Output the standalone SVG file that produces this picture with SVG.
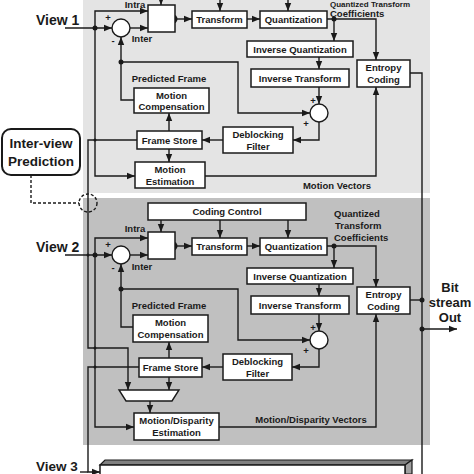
<svg xmlns="http://www.w3.org/2000/svg" width="474" height="474" viewBox="0 0 474 474">
<style>
text{font-family:"Liberation Sans",Arial,sans-serif;font-weight:bold;fill:#1a1a1a}
.t{font-size:9.5px;text-anchor:middle}
.s{font-size:9.5px}
.big{font-size:14px}
.box{fill:#fff;stroke:#1a1a1a;stroke-width:1.5}
.ln{fill:none;stroke:#1a1a1a;stroke-width:1.4}
.ar{fill:none;stroke:#1a1a1a;stroke-width:1.4;marker-end:url(#a)}
.dot{fill:#1a1a1a}
.sum{fill:#fff;stroke:#1a1a1a;stroke-width:1.4}
</style>
<defs>
<marker id="a" viewBox="0 0 10 10" refX="10" refY="5" markerWidth="8" markerHeight="8" markerUnits="userSpaceOnUse" orient="auto"><path d="M0,1 L10,5 L0,9 z" fill="#1a1a1a"/></marker>
</defs>
<rect width="474" height="474" fill="#fff"/>
<rect id="panel1" x="83" y="0" width="347" height="193" fill="#e4e4e4"/>
<rect id="panel2" x="83" y="198" width="347" height="247" fill="#c0c0c0"/>

<g id="connectors">
<!-- section 1 -->
<path class="ar" d="M161,0 V5"/>
<path class="ar" d="M220,0 V11"/>
<path class="ar" d="M288,0 V11"/>
<path class="ar" d="M65,28 H112"/>
<path class="ar" d="M95,28 V11 H148"/>
<path class="ar" d="M95,28 V176 H135"/>
<path class="ar" d="M130,28 H148"/>
<path class="ar" d="M173,19 L151,11"/>
<path class="ar" d="M177,19 H192"/>
<path class="ar" d="M247,19 H260"/>
<path class="ar" d="M327,19 H376 V60"/>
<path class="ar" d="M334,19 V41"/>
<path class="ar" d="M319,57 V69"/>
<path class="ar" d="M319,87 V104"/>
<path class="ar" d="M319,122 V140 H293"/>
<path class="ar" d="M223,140 H202"/>
<path class="ar" d="M169,131 V113"/>
<path class="ar" d="M169,149 V162"/>
<path class="ar" d="M134,100 H121 V37"/>
<path class="ar" d="M121,62 H238 V113 H310"/>
<path class="ar" d="M205,176 H376 V87"/>
<path class="ln" d="M410,73 H422 V474"/>
<path class="ar" d="M137,140 H88 V348 H128 V390"/>
<!-- section 2 -->
<path class="ar" d="M161,220 V232"/>
<path class="ar" d="M220,220 V238"/>
<path class="ar" d="M288,220 V238"/>
<path class="ar" d="M65,255 H112"/>
<path class="ar" d="M95,255 V238 H148"/>
<path class="ar" d="M95,255 V427 H134"/>
<path class="ar" d="M130,255 H148"/>
<path class="ar" d="M173,246 L151,238"/>
<path class="ar" d="M177,246 H192"/>
<path class="ar" d="M247,246 H260"/>
<path class="ar" d="M327,246 H376 V287"/>
<path class="ar" d="M334,246 V268"/>
<path class="ar" d="M319,284 V296"/>
<path class="ar" d="M319,314 V331"/>
<path class="ar" d="M319,349 V367 H292"/>
<path class="ar" d="M223,367 H202"/>
<path class="ar" d="M169,358 V342"/>
<path class="ar" d="M169,377 V390"/>
<path class="ar" d="M150,401 V413"/>
<path class="ar" d="M133,327 H121 V264"/>
<path class="ar" d="M121,289 H238 V340 H310"/>
<path class="ar" d="M219,427 H376 V314"/>
<path class="ln" d="M410,300 H422"/>
<path class="ar" d="M422,329 H457"/>
<path class="ar" d="M139,367 H88 V472 H100"/>
<path class="ln" d="M80,472 H88"/>
<!-- inter-view dashed -->
<path fill="none" stroke="#1a1a1a" stroke-width="1.4" stroke-dasharray="3,2" d="M31,175 V203 H79"/>
<circle cx="88" cy="203" r="9" fill="none" stroke="#1a1a1a" stroke-width="1.4" stroke-dasharray="3,2"/>
<!-- dots -->
<circle class="dot" cx="95" cy="28" r="2.5"/>
<circle class="dot" cx="173" cy="19" r="4.5"/>
<circle class="dot" cx="334" cy="19" r="2.5"/>
<circle class="dot" cx="121" cy="62" r="2.5"/>
<circle class="dot" cx="95" cy="140" r="1.5"/>
<circle class="dot" cx="95" cy="255" r="2.5"/>
<circle class="dot" cx="88" cy="255" r="1.5"/>
<circle class="dot" cx="173" cy="246" r="4.5"/>
<circle class="dot" cx="334" cy="246" r="2.5"/>
<circle class="dot" cx="121" cy="289" r="2.5"/>
<circle class="dot" cx="95" cy="348" r="1.5"/>
<circle class="dot" cx="95" cy="367" r="1.5"/>
<circle class="dot" cx="422" cy="300" r="2.5"/>
<circle class="dot" cx="422" cy="329" r="2.5"/>
</g>

<!-- Section 1 nodes -->
<g id="switch1"><rect class="box" x="148" y="5" width="27" height="27"/></g>
<g id="sum1a"><circle class="sum" cx="121" cy="28" r="9"/><text class="t" x="108" y="21">+</text><text class="t" x="113" y="44">-</text></g>
<g id="transform1"><rect class="box" x="192" y="11" width="55" height="17"/><text class="t" x="219.5" y="23">Transform</text></g>
<g id="quant1"><rect class="box" x="260" y="11" width="67" height="17"/><text class="t" x="293.5" y="23">Quantization</text></g>
<g id="iquant1"><rect class="box" x="247" y="41" width="106" height="16"/><text class="t" x="300" y="52.5">Inverse Quantization</text></g>
<g id="itrans1"><rect class="box" x="251" y="69" width="98" height="18"/><text class="t" x="300" y="81.5">Inverse Transform</text></g>
<g id="sum1b"><circle class="sum" cx="319" cy="113" r="9"/><text class="t" x="313" y="104">+</text><text class="t" x="306" y="127">+</text></g>
<g id="entropy1"><rect class="box" x="357" y="60" width="53" height="27"/><text class="t" x="383.5" y="71">Entropy</text><text class="t" x="383.5" y="83">Coding</text></g>
<g id="deblock1"><rect class="box" x="223" y="127" width="70" height="26"/><text class="t" x="258" y="137.5">Deblocking</text><text class="t" x="258" y="149.5">Filter</text></g>
<g id="fstore1"><rect class="box" x="137" y="131" width="65" height="18"/><text class="t" x="169.5" y="143.5">Frame Store</text></g>
<g id="mc1"><rect class="box" x="134" y="88" width="75" height="25"/><text class="t" x="171.5" y="98.5">Motion</text><text class="t" x="171.5" y="110">Compensation</text></g>
<g id="me1"><rect class="box" x="135" y="162" width="70" height="26"/><text class="t" x="170" y="172.5">Motion</text><text class="t" x="170" y="185">Estimation</text></g>
<g id="labels1">
<text class="big" x="36" y="25">View 1</text>
<text class="t" x="135" y="7.5">Intra</text>
<text class="t" x="142" y="42">Inter</text>
<text class="t" x="169" y="82">Predicted Frame</text>
<text class="s" x="330" y="6.5" style="font-size:8px">Quantized Transform</text>
<text class="s" x="330" y="17">Coefficients</text>
<text class="t" x="337" y="189">Motion Vectors</text>
</g>

<g id="interview"><rect x="2" y="129" width="78" height="46" rx="9" fill="#fff" stroke="#1a1a1a" stroke-width="2"/><text class="big" x="41" y="148" text-anchor="middle" style="font-size:13.5px">Inter-view</text><text class="big" x="41" y="166" text-anchor="middle" style="font-size:13.5px">Prediction</text></g>

<!-- Section 2 nodes -->
<g id="codingcontrol"><rect class="box" x="148" y="203" width="158" height="17"/><text class="t" x="227" y="215">Coding Control</text></g>
<g id="switch2"><rect class="box" x="148" y="232" width="27" height="27"/></g>
<g id="sum2a"><circle class="sum" cx="121" cy="255" r="9"/><text class="t" x="108" y="248">+</text><text class="t" x="113" y="271">-</text></g>
<g id="transform2"><rect class="box" x="192" y="238" width="55" height="17"/><text class="t" x="219.5" y="250">Transform</text></g>
<g id="quant2"><rect class="box" x="260" y="238" width="67" height="17"/><text class="t" x="293.5" y="250">Quantization</text></g>
<g id="iquant2"><rect class="box" x="247" y="268" width="106" height="16"/><text class="t" x="300" y="279.5">Inverse Quantization</text></g>
<g id="itrans2"><rect class="box" x="251" y="296" width="98" height="18"/><text class="t" x="300" y="308.5">Inverse Transform</text></g>
<g id="sum2b"><circle class="sum" cx="319" cy="340" r="9"/><text class="t" x="313" y="331">+</text><text class="t" x="306" y="354">+</text></g>
<g id="entropy2"><rect class="box" x="357" y="287" width="53" height="27"/><text class="t" x="383.5" y="298">Entropy</text><text class="t" x="383.5" y="310">Coding</text></g>
<g id="deblock2"><rect class="box" x="223" y="354" width="69" height="26"/><text class="t" x="257.5" y="364.5">Deblocking</text><text class="t" x="257.5" y="376.5">Filter</text></g>
<g id="fstore2"><rect class="box" x="139" y="358" width="63" height="19"/><text class="t" x="170.5" y="371">Frame Store</text></g>
<g id="mc2"><rect class="box" x="133" y="315" width="75" height="27"/><text class="t" x="170.5" y="326">Motion</text><text class="t" x="170.5" y="338">Compensation</text></g>
<g id="mux2"><polygon points="119,390 179,390 172,401 126,401" fill="#fff" stroke="#1a1a1a" stroke-width="1.4"/></g>
<g id="me2"><rect class="box" x="134" y="413" width="85" height="27"/><text class="t" x="176.5" y="424">Motion/Disparity</text><text class="t" x="176.5" y="436">Estimation</text></g>
<g id="labels2">
<text class="big" x="36" y="252">View 2</text>
<text class="t" x="135" y="232">Intra</text>
<text class="t" x="142" y="270">Inter</text>
<text class="t" x="169" y="309">Predicted Frame</text>
<text class="s" x="334" y="217">Quantized</text>
<text class="s" x="335" y="229">Transform</text>
<text class="s" x="334" y="241">Coefficients</text>
<text class="t" x="311" y="423">Motion/Disparity  Vectors</text>
</g>
<g id="bitstream"><text class="big" x="450" y="292" text-anchor="middle" style="font-size:13px">Bit</text><text class="big" x="450" y="307" text-anchor="middle" style="font-size:13px">stream</text><text class="big" x="450" y="322" text-anchor="middle" style="font-size:13px">Out</text></g>

<!-- View 3 -->
<g id="view3">
<polygon points="100,465 105,460 412,460 405,465" fill="#808080" stroke="#1a1a1a" stroke-width="1.2"/>
<polygon points="405,465 412,460 412,474 405,474" fill="#a0a0a0" stroke="#1a1a1a" stroke-width="1.2"/>
<rect x="100" y="465" width="305" height="20" fill="#fff" stroke="#1a1a1a" stroke-width="1.5"/>
<text class="big" x="36" y="471" style="font-size:13.5px">View 3</text>
</g>
</svg>
